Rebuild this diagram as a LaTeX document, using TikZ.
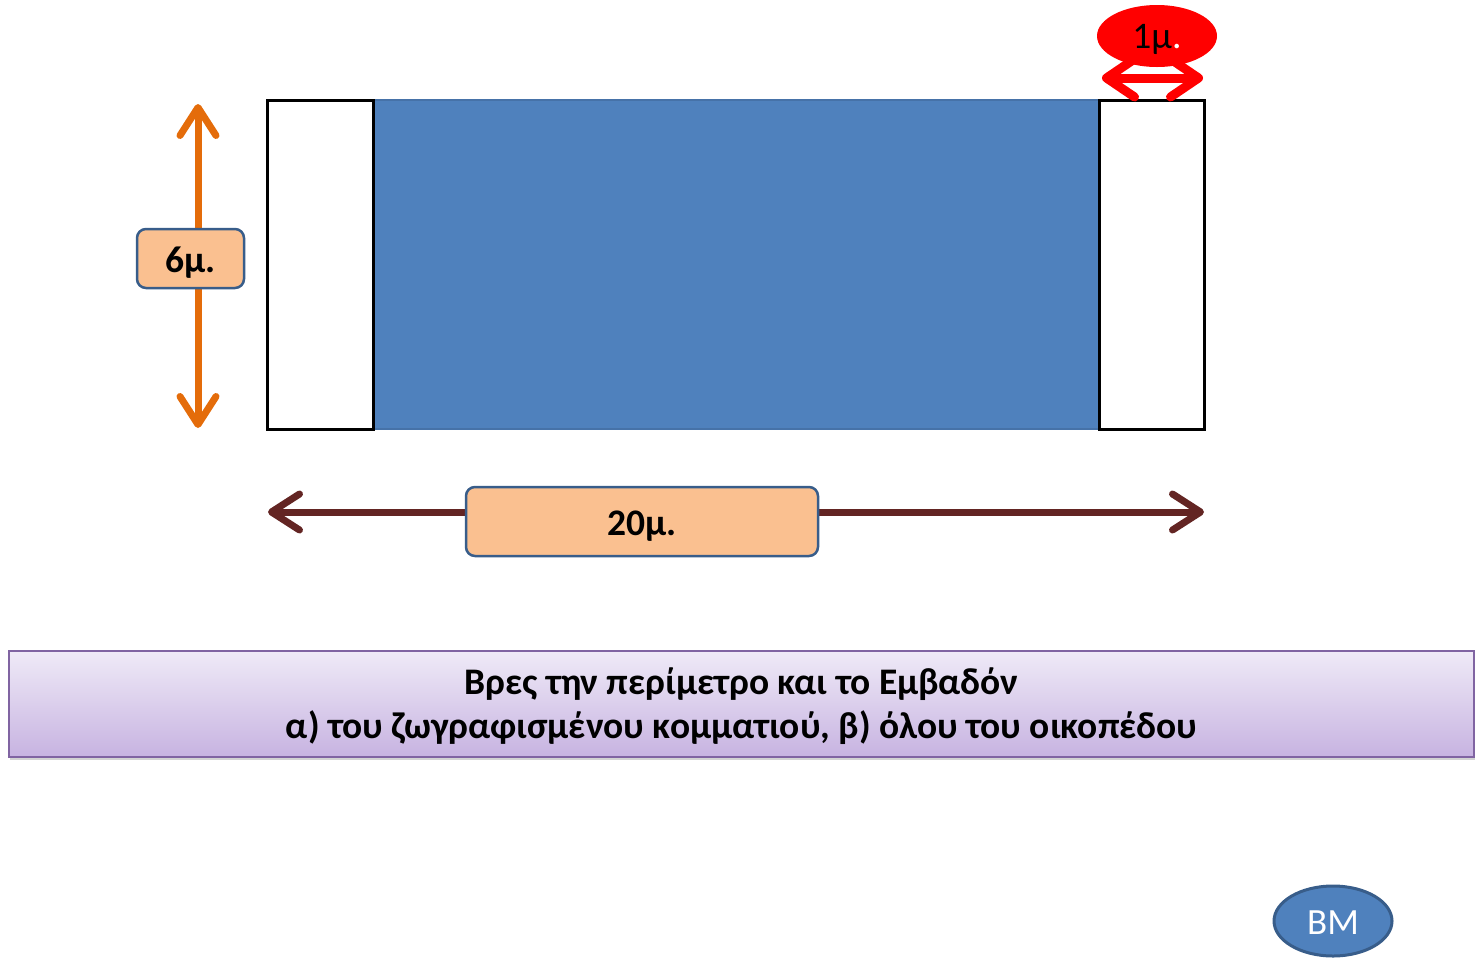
\documentclass[tikz,border=0pt]{standalone}
\usepackage{fontspec}
\setmainfont{Carlito}
\usetikzlibrary{arrows.meta,shapes.geometric,shadows}
\definecolor{blueA}{HTML}{4F81BD}
\definecolor{blueB}{HTML}{385D8A}
\definecolor{blueC}{HTML}{4672A8}
\definecolor{peach}{HTML}{FAC090}
\definecolor{orangeA}{HTML}{E46C0A}
\definecolor{brownA}{HTML}{632523}
\definecolor{purpTop}{HTML}{EFEAF7}
\definecolor{purpBot}{HTML}{C7B3E1}
\definecolor{purpBd}{HTML}{8064A2}
\newcommand{\lowered}[2][4pt]{\raisebox{-#1}[\height][\depth]{#2}}
\begin{document}
\begin{tikzpicture}[x=1pt,y=-1pt,
  plotbox/.style={draw=black, line width=3pt, fill=white, inner sep=0pt},
  lenlabel/.style={draw=blueB, line width=2.5pt, fill=peach, rounded corners=9pt,
     font=\bfseries\fontsize{37.5}{44}\selectfont, inner sep=0pt},
  dimarrow/.style={line width=7pt, {Straight Barb[length=28pt,width=36pt,round]}-{Straight Barb[length=28pt,width=36pt,round]}},
]
\useasboundingbox (0,0) rectangle (1483,959);

% plot
\node[fill=blueA, draw=blueC, line width=2pt, minimum width=726pt, minimum height=329pt, inner sep=0pt] (mid) at (736,264.5) {};
\node[plotbox, minimum width=106pt, minimum height=329pt] (left) at (320,264.5) {};
\node[plotbox, minimum width=105pt, minimum height=329pt] (right) at (1151.5,264.5) {};

% height arrow
\coordinate (ot) at (198,104);
\coordinate (ob) at (198,428);
\draw[orangeA, dimarrow] (ot) -- (ob);
\node[lenlabel, minimum width=107pt, minimum height=59pt] (six) at (190.5,258.5) {\lowered{6μ.}};

% width arrow
\coordinate (bl) at (268,512);
\coordinate (br) at (1204,512);
\draw[brownA, dimarrow] (bl) -- (br);
\node[lenlabel, minimum width=352pt, minimum height=69pt] (twenty) at (642,521.5) {\lowered[5pt]{20μ.}};

% 1m marker
\node[ellipse, fill=red, minimum width=120pt, minimum height=62pt, inner sep=0pt,
      font=\fontsize{37.5}{44}\selectfont] (one) at (1157,36) {\lowered[3pt]{1μ\textcolor{white}{.}}};
\coordinate (rl) at (1102,78);
\coordinate (rr) at (1203,78);
\draw[red, line width=9pt, {Straight Barb[length=28pt,width=38pt,round]}-{Straight Barb[length=28pt,width=38pt,round]}] (rl) -- (rr);

% question banner
\node[draw=purpBd, line width=1.5pt, top color=purpTop, bottom color=purpBot,
      minimum width=1465pt, minimum height=106pt, inner sep=0pt,
      drop shadow={shadow xshift=1pt, shadow yshift=-3pt, opacity=0.35},
      font=\bfseries\fontsize{37.5}{44}\selectfont] (q) at (741.5,704)
  {\lowered{\begin{tabular}{@{}c@{}}Βρες την περίμετρο και το Εμβαδόν\\α) του ζωγραφισμένου κομματιού, β) όλου του οικοπέδου\end{tabular}}};

% BM
\node[ellipse, fill=blueA, draw=blueB, line width=3pt, minimum width=118pt, minimum height=70pt,
      inner sep=0pt, text=white, font=\fontsize{37}{44}\selectfont] (bm) at (1333,921) {\lowered[2pt]{BM}};
\end{tikzpicture}
\end{document}
